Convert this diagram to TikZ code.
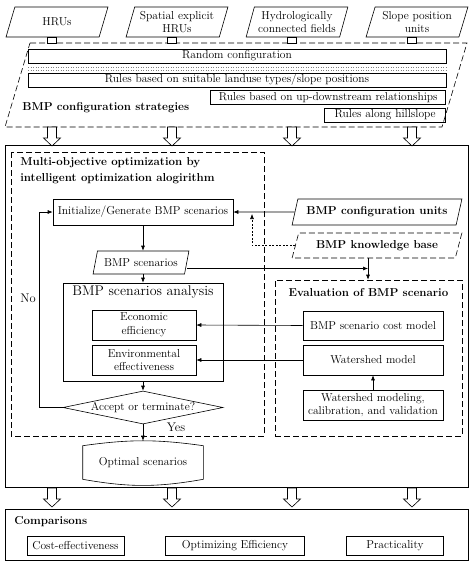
\documentclass[tikz,border=0pt]{standalone}
\usepackage{tikz}
\usetikzlibrary{arrows.meta, positioning, shapes.geometric}
\newcommand{\chartFont}{\fontsize{11.5}{13.5}\selectfont}
\tikzset{
    unitNode/.style={
        trapezium,
        trapezium left angle=72,
        trapezium right angle=108,
        trapezium stretches=true,
        draw=black,
        fill=white,
        align=center,
        inner sep=1pt,
        minimum width=102pt,
        minimum height=30pt
    },
    ruleNode/.style={
        rectangle,
        draw=black,
        inner sep=0pt,
        minimum height=14pt
    },
    procNode/.style={
        rectangle,
        draw=black,
        align=center,
        inner sep=1pt
    },
    titleNode/.style={
        font=\chartFont\bfseries,
        align=left,
        inner sep=0pt
    },
    dashLine/.style={
        dash pattern=on 6pt off 3pt
    },
    sepLine/.style={
        draw=gray,
        line width=0.5pt,
        dash pattern=on 1pt off 1.5pt
    },
    hollowArrow/.pic={
        \draw[fill=white] (-4.5,0) -- (-4.5,11) -- (-8.5,11) -- (0,19)
            -- (8.5,11) -- (4.5,11) -- (4.5,0) -- cycle;
    }
}

\begin{document}
\begin{tikzpicture}[x=1pt, y=-1pt, line width=0.6pt, font=\chartFont,
        >={Latex[length=5pt, width=4pt]}]
    \useasboundingbox (0,0) rectangle (474,568);

    % Spatial units
    \node[unitNode] (hrus) at (57,22) {HRUs};
    \node[unitNode] (spatialHrus) at (177,22) {Spatial explicit\\HRUs};
    \node[unitNode] (connFields) at (297,22) {Hydrologically\\connected fields};
    \node[unitNode] (slopeUnits) at (417,22) {Slope position\\units};

    % Configuration strategies
    \draw[dashLine] (30,43) -- (467,43) -- (442,127) -- (5,127) -- cycle;
    \node[ruleNode, minimum width=418pt] (randomConf) at (237,56) {Random configuration};
    \draw[sepLine] (28,67.5) -- (446,67.5);
    \draw[sepLine] (28,70.5) -- (446,70.5);
    \node[ruleNode, minimum width=418pt] (landuseRule) at (237,80)
        {Rules based on suitable landuse types/slope positions};
    \node[ruleNode, minimum width=235pt, anchor=east] (updownRule) at (446,97.5)
        {Rules based on up-downstream relationships};
    \node[ruleNode, minimum width=121pt, anchor=east] (hillRule) at (446,115)
        {Rules along hillslope};
    \node[titleNode, anchor=west] (strategyTitle) at (22,108) {BMP configuration strategies};

    % Stubs and hollow arrows
    \foreach \x in {52,172,292,412} {
        \draw[fill=white] (\x-4.5,37) rectangle (\x+4.5,43);
        \pic at (\x,127) {hollowArrow};
        \pic at (\x,488) {hollowArrow};
    }

    % Optimization frame
    \draw (5,145) rectangle (468,487);
    \draw[dashLine] (11,152) rectangle (264,436);
    \node[titleNode, anchor=north west] (optTitle) at (20,157)
        {Multi-objective optimization by\\[3pt]intelligent optimization alogirithm};

    \node[procNode, minimum width=180pt, minimum height=26pt] (initScen) at (143,212)
        {Initialize/Generate BMP scenarios};
    \node[unitNode, minimum width=96pt, minimum height=23pt, trapezium left angle=69,
        trapezium right angle=111] (bmpScen) at (141,262.5) {BMP scenarios};
    \node[draw, minimum width=160pt, minimum height=98pt, inner sep=0pt] (analysis) at (143,332) {};
    \node[font=\fontsize{14}{16}\selectfont, inner sep=0pt, below=3pt of analysis.north]
        (analysisTitle) {BMP scenarios analysis};
    \node[procNode, minimum width=104pt, minimum height=30pt] (econEff) at (144,325)
        {Economic\\efficiency};
    \node[procNode, minimum width=104pt, minimum height=30pt] (envEff) at (144,360)
        {Environmental\\effectiveness};
    \node[diamond, draw, aspect=4.8, inner sep=0pt, minimum width=160pt,
        minimum height=33pt] (decision) at (143,407.5) {Accept or terminate?};
    \node[minimum width=120pt, minimum height=38pt, inner sep=0pt] (optimal) at (143,463)
        {Optimal scenarios};
    \draw ([yshift=-2pt]optimal.north west) to[bend left=8] ([yshift=-2pt]optimal.north east)
        -- ([yshift=3pt]optimal.south east) to[bend left=10] ([yshift=3pt]optimal.south west)
        -- cycle;
    \node[font=\fontsize{12.5}{14}\selectfont] (noLabel) at (28,298) {No};
    \node[font=\fontsize{12.5}{14}\selectfont] (yesLabel) at (176,427) {Yes};
    \coordinate (noTurn) at (39,407.5);

    \draw[->] (initScen.south) -- (initScen.south |- bmpScen.north);
    \draw[->] (initScen.south |- bmpScen.south) -- (analysis.north);
    \draw[->] (analysis.south) -- (decision.north);
    \draw[->] (decision.west) -- (noTurn) |- (initScen.west);
    \draw[->] (decision.south) -- ([yshift=3pt]optimal.north);

    % Evaluation side
    \node[unitNode, font=\chartFont\bfseries, minimum width=170pt, minimum height=26pt,
        trapezium left angle=67, trapezium right angle=113] (confUnits) at (377,212)
        {BMP configuration units};
    \node[unitNode, dashLine, font=\chartFont\bfseries, minimum width=170pt,
        minimum height=25pt, trapezium left angle=67, trapezium right angle=113]
        (knowBase) at (377,245.5) {BMP knowledge base};
    \node[draw, dashLine, minimum width=187pt, minimum height=156pt, inner sep=0pt]
        (evalBox) at (368.5,358) {};
    \node[titleNode, below=8pt of evalBox.north] (evalTitle) {Evaluation of BMP scenario};
    \node[procNode, minimum width=140pt, minimum height=29pt] (costModel) at (373,325.5)
        {BMP scenario cost model};
    \node[procNode, minimum width=140pt, minimum height=30pt] (wsModel) at (373,360)
        {Watershed model};
    \node[procNode, minimum width=140pt, minimum height=30pt] (wsCalib) at (373,405)
        {Watershed modeling,\\calibration, and validation};
    \coordinate (kbTurn) at (252,214);
    \coordinate (scenJoin) at (368,268.5);

    \draw[->] (confUnits.west) -- (initScen.east);
    \draw[->, dash pattern=on 2pt off 1.5pt] (knowBase.west) -| (kbTurn);
    \draw[->] ([yshift=-6pt]bmpScen.east) -- (scenJoin);
    \draw[->] (knowBase.south -| scenJoin) -- (evalBox.north -| scenJoin);
    \draw[->] (costModel.west) -- (econEff.east);
    \draw[->] (wsModel.west) -- (envEff.east);
    \draw[->] (wsCalib.north) -- (wsModel.south);

    % Comparisons
    \draw (5,509) rectangle (468,560);
    \node[titleNode, anchor=west] (compTitle) at (14,522) {Comparisons};
    \node[procNode, minimum width=97pt, minimum height=19pt] (costEff) at (75.5,545.5)
        {Cost-effectiveness};
    \node[procNode, minimum width=139pt, minimum height=19pt] (optEff) at (235,545.5)
        {Optimizing Efficiency};
    \node[procNode, minimum width=97pt, minimum height=19pt] (practicality) at (395,545.5)
        {Practicality};
\end{tikzpicture}
\end{document}
